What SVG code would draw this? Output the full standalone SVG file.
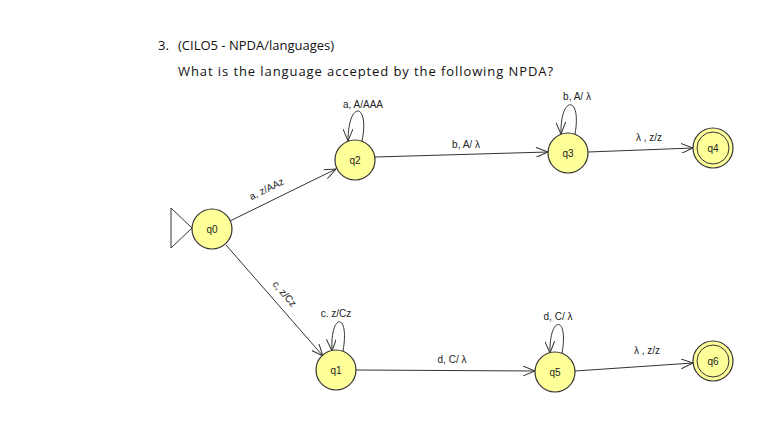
<svg xmlns="http://www.w3.org/2000/svg" width="784" height="441" viewBox="0 0 784 441">
<style>
.n{fill:#ffff99;stroke:#333;stroke-width:1.2}
.t{font-family:"Liberation Sans",Arial,sans-serif;font-size:10px;fill:#222;text-anchor:middle}
.e{stroke:#333;stroke-width:1;fill:none;marker-end:url(#a)}
.h{font-family:"Open Sans",sans-serif;font-size:13px;fill:#111}
</style>
<defs><marker id="a" viewBox="0 0 12 10" refX="12" refY="5" markerWidth="12" markerHeight="10" orient="auto" markerUnits="userSpaceOnUse"><path d="M0,0 L12,5 L0,10" fill="none" stroke="#333"/></marker></defs>
<rect width="784" height="441" fill="#fff"/>
<text class="h" x="158" y="50">3.</text>
<text class="h" x="178" y="50">(CILO5 - NPDA/languages)</text>
<text class="h" x="178" y="76" textLength="375">What is the language accepted by the following NPDA?</text>
<g id="edges">
<polygon points="171,208 171,248 192,228" fill="none" stroke="#333"/>
<path class="e" d="M230,221 L336,169"/>
<text class="t" transform="translate(268,192) rotate(-26)">a, z/AAz</text>
<path class="e" d="M226,245 L323,356"/>
<text class="t" transform="translate(282,296) rotate(49)">c, z/Cz</text>
<path class="e" d="M375,157 L548,152"/>
<text class="t" x="466" y="148">b, A/ λ</text>
<path class="e" d="M588,152 L693,148"/>
<text class="t" x="649" y="141">λ , z/z</text>
<path class="e" d="M356,370 L535,371"/>
<text class="t" x="452" y="363">d, C/ λ</text>
<path class="e" d="M575,371 L693,363"/>
<text class="t" x="647" y="354">λ , z/z</text>
<path class="e" d="M362,141 C370,102 348,100 348,141"/>
<text class="t" x="363" y="108">a, A/AAA</text>
<path class="e" d="M575,134 C582,95 560,95 561,134"/>
<text class="t" x="577" y="100">b, A/ λ</text>
<path class="e" d="M343,351 C350,312 330,312 332,351"/>
<text class="t" x="336" y="317">c. z/Cz</text>
<path class="e" d="M562,353 C569,315 549,315 550,353"/>
<text class="t" x="558" y="320">d, C/ λ</text>
</g>
<g id="q0"><circle class="n" cx="212" cy="229" r="20"/><text class="t" x="212" y="233">q0</text></g>
<g id="q2"><circle class="n" cx="355" cy="160" r="20"/><text class="t" x="355" y="164">q2</text></g>
<g id="q3"><circle class="n" cx="568" cy="153" r="20"/><text class="t" x="568" y="157">q3</text></g>
<g id="q4"><circle class="n" cx="713" cy="148" r="20"/><circle cx="713" cy="148" r="16" fill="none" stroke="#333"/><text class="t" x="713" y="152">q4</text></g>
<g id="q1"><circle class="n" cx="336" cy="370" r="20"/><text class="t" x="336" y="374">q1</text></g>
<g id="q5"><circle class="n" cx="555" cy="372" r="20"/><text class="t" x="555" y="376">q5</text></g>
<g id="q6"><circle class="n" cx="713" cy="361" r="20"/><circle cx="713" cy="361" r="16" fill="none" stroke="#333"/><text class="t" x="713" y="365">q6</text></g>
</svg>
